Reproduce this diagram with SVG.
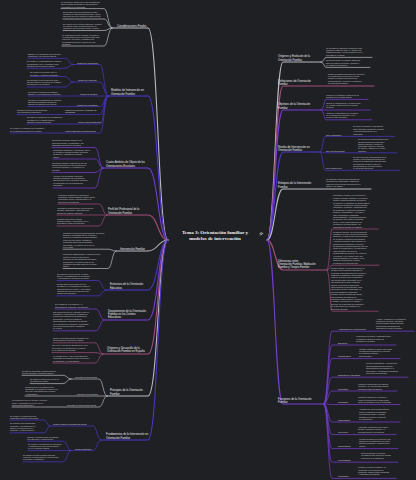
<svg xmlns="http://www.w3.org/2000/svg" width="416" height="480" viewBox="0 0 416 480">
<style>
.ln{fill:none;stroke-linecap:round;stroke-linejoin:round;stroke-width:0.7}
.mn{stroke-width:1.1}
.g{stroke:#b9b9bf}
.b{stroke:#4a36cf}
.p{stroke:#7a3cd8}
.k{stroke:#a44c7e}
text{font-family:"Liberation Sans",Arial,sans-serif}
.t{font-size:1.9px;fill:#c6c6cc}
.s{font-size:2.1px;fill:#d8d8dc}
.m{font-size:2.7px;fill:#ececef}
.c{font-family:"Liberation Serif","Times New Roman",serif;font-size:5px;font-weight:bold;fill:#f2f2f2}
</style>
<rect width="416" height="480" fill="#1f2024"/>
<g id="connectors">
<g class="ln g">
<path class="mn" d="M112 28H148C158 28 158 240 168 240"/>
<path d="M61 8.6H104C108 8.6 108 28 112 28"/>
<path d="M63 19H104C108 19 108 28 112 28"/>
<path d="M63 30.5H104C108 30.5 108 28 112 28"/>
<path d="M62 46H104C108 46 108 28 112 28"/>
</g>
<g class="ln b">
<path class="mn" d="M108 96H148C158 96 158 240 168 240"/>
<path d="M73 64.5H100C104 64.5 104 96 108 96"/>
<path d="M28 58.3H65C69 58.3 69 64.5 73 64.5"/>
<path d="M27 68.3H65C69 68.3 69 64.5 73 64.5"/>
<path d="M73 82H100C104 82 104 96 108 96"/>
<path d="M30 76.5H65C69 76.5 69 82 73 82"/>
<path d="M27 87H65C69 87 69 82 73 82"/>
<path d="M28 96H108"/>
<path d="M28 106.5H100C104 106.5 104 96 108 96"/>
<path d="M17 114.5H100C104 114.5 104 96 108 96"/>
<path d="M27 124H100C104 124 104 96 108 96"/>
<path d="M10 133H100C104 133 104 96 108 96"/>
</g>
<g class="ln p">
<path class="mn" d="M103 168H148C158 168 158 240 168 240"/>
<path d="M52 147.5H95C99 147.5 99 168 103 168"/>
<path d="M53 159H95C99 159 99 168 103 168"/>
<path d="M52 172.5H95C99 172.5 99 168 103 168"/>
<path d="M53 188H95C99 188 99 168 103 168"/>
</g>
<g class="ln k">
<path class="mn" d="M107 215H148C158 215 158 240 168 240"/>
<path d="M58 204H99C103 204 103 215 107 215"/>
<path d="M57 215H107"/>
<path d="M57 226H99C103 226 103 215 107 215"/>
</g>
<g class="ln g">
<path class="mn" d="M116 251H148C158 251 158 240 168 240"/>
<path d="M63 249.2H108C112 249.2 112 251 116 251"/>
<path d="M63 268.5H108C112 268.5 112 251 116 251"/>
</g>
<g class="ln b">
<path class="mn" d="M106 290H148C158 290 158 240 168 240"/>
<path d="M57 280.5H98C102 280.5 102 290 106 290"/>
<path d="M57 295.8H98C102 295.8 102 290 106 290"/>
</g>
<g class="ln p">
<path class="mn" d="M104 320H148C158 320 158 240 168 240"/>
<path d="M55 309H96C100 309 100 320 104 320"/>
<path d="M53 330.8H96C100 330.8 100 320 104 320"/>
</g>
<g class="ln k">
<path class="mn" d="M103 354H148C158 354 158 240 168 240"/>
<path d="M53 342.8H95C99 342.8 99 354 103 354"/>
<path d="M52 352.6H95C99 352.6 99 354 103 354"/>
<path d="M53 363H95C99 363 99 354 103 354"/>
</g>
<g class="ln g">
<path class="mn" d="M107 396H148C158 396 158 240 168 240"/>
<path d="M71 379H99C103 379 103 396 107 396"/>
<path d="M22 375.3H63C67 375.3 67 379 71 379"/>
<path d="M30 383.6H63C67 383.6 67 379 71 379"/>
<path d="M25 396H107"/>
<path d="M12 407H99C103 407 103 396 107 396"/>
</g>
<g class="ln b">
<path class="mn" d="M101 440H148C158 440 158 240 168 240"/>
<path d="M50 426H93C97 426 97 440 101 440"/>
<path d="M10 420H44C47 420 47 426 50 426"/>
<path d="M10 432.8H44C47 432.8 47 426 50 426"/>
<path d="M71 450.5H93C97 450.5 97 440 101 440"/>
<path d="M27 441.2H63C67 441.2 67 450.5 71 450.5"/>
<path d="M28 450.5H71"/>
<path d="M23 461.8H63C67 461.8 67 450.5 71 450.5"/>
</g>
<g class="ln g">
<path class="mn" d="M267 240C275 240 275 62 283 62H321"/>
<path d="M321 62C324 62 324 57.4 326 57.4H372"/>
<path d="M321 62C324 62 324 67.4 326 67.4H370"/>
</g>
<g class="ln k">
<path class="mn" d="M267 240C275 240 275 86 283 86H374"/>
</g>
<g class="ln p">
<path class="mn" d="M267 240C275 240 275 110 283 110H321"/>
<path d="M321 110C324 110 324 99.4 326 99.4H368"/>
<path d="M321 110H370"/>
<path d="M321 110C324 110 324 119.8 326 119.8H372"/>
</g>
<g class="ln b">
<path class="mn" d="M267 240C275 240 275 152 283 152H320"/>
<path d="M320 152C323 152 323 136.4 325 136.4H395"/>
<path d="M320 152C323 152 323 152.8 325 152.8H397"/>
<path d="M320 152C323 152 323 170.3 325 170.3H400"/>
</g>
<g class="ln g">
<path class="mn" d="M267 240C275 240 275 189 283 189H371"/>
</g>
<g class="ln k">
<path class="mn" d="M267 240C275 240 275 270 283 270H327"/>
<path d="M327 270C330 270 330 229 332 229H378"/>
<path d="M327 270C330 270 330 265.2 332 265.2H379"/>
<path d="M327 270C330 270 330 311.2 332 311.2H378"/>
</g>
<g class="ln p">
<path class="mn" d="M267 240C275 240 275 404 283 404H324"/>
<path d="M324 404C328 404 328 331.2 332 331.2H414"/>
<path d="M324 404C328 404 328 345 332 345H396"/>
<path d="M324 404C328 404 328 358.6 332 358.6H400"/>
<path d="M324 404C328 404 328 377.2 332 377.2H408"/>
<path d="M324 404C328 404 328 391 332 391H397"/>
<path d="M324 404C328 404 328 404.5 332 404.5H400"/>
<path d="M324 404C328 404 328 422 332 422H400"/>
<path d="M324 404C328 404 328 434.6 332 434.6H396"/>
<path d="M324 404C328 404 328 448.6 332 448.6H398"/>
<path d="M324 404C328 404 328 462.2 332 462.2H398"/>
<path d="M324 404C328 404 328 478.4 332 478.4H396"/>
</g>
</g>

<g id="center">
<text class="c" text-anchor="middle"><tspan x="215" y="233.6">Tema 3: Orientación familiar y</tspan><tspan x="215" y="240.2">modelos de intervención</tspan></text>
<g id="center-icon" fill="none" stroke="#d4d4d8" stroke-width="0.5" stroke-linecap="round"><path d="M260.2 235.3l2.2-2.2M259.6 233.8l1-1a0.9 0.9 0 0 1 1.3 1.3M263 233.3l-1 1a0.9 0.9 0 0 1-1.3-1.3"/></g>
</g>

<g id="consideraciones-finales">
<text class="m" x="117" y="26.6">Consideraciones Finales</text>
<g id="cf-1"><text class="t"><tspan x="61" y="2.8">La orientación familiar es un pilar fundamental</tspan><tspan x="61" y="5.2">para el desarrollo integral de los individuos y</tspan><tspan x="61" y="7.6">el bienestar de la comunidad.</tspan></text></g>
<g id="cf-2"><text class="t"><tspan x="63" y="12.6">Es necesario que los profesionales estén</tspan><tspan x="63" y="15">formados en competencias técnicas y éticas</tspan><tspan x="63" y="17.4">para intervenir con eficacia en cada contexto.</tspan></text></g>
<g id="cf-3"><text class="t"><tspan x="63" y="24.5">En relación con el modelo sistémico, la familia</tspan><tspan x="63" y="26.9">se entiende como un sistema abierto en</tspan><tspan x="63" y="29.3">interacción con su entorno social y cultural.</tspan></text></g>
<g id="cf-4"><text class="t"><tspan x="62" y="35.5">La colaboración entre la familia, la escuela y</tspan><tspan x="62" y="37.9">la comunidad favorece una intervención más</tspan><tspan x="62" y="40.3">coherente, preventiva y ajustada a las</tspan><tspan x="62" y="42.7">necesidades reales de cada uno de sus</tspan><tspan x="62" y="45.1">miembros.</tspan></text></g>
</g>

<g id="modelos-intervencion">
<text class="m"><tspan x="111" y="91.3">Modelos de Intervención en</tspan><tspan x="111" y="94.6">Orientación Familiar</tspan></text>
<g id="mi-consultoria"><text class="s" x="77" y="63.5">Modelo de Consultoría</text>
<g id="mi-consultoria-1"><text class="t"><tspan x="28" y="54.8">Basado en el análisis de las relaciones</tspan><tspan x="28" y="57.2">personales y del contexto familiar.</tspan></text></g>
<g id="mi-consultoria-2"><text class="t"><tspan x="27" y="62.2">Se centra en el asesoramiento a padres y</tspan><tspan x="27" y="64.6">profesionales, con el orientador como</tspan><tspan x="27" y="67">mediador del proceso de cambio.</tspan></text></g></g>
<g id="mi-consulta"><text class="s" x="78" y="81">Modelo de Consulta</text>
<g id="mi-consulta-1"><text class="t"><tspan x="30" y="73.2">Se centra en la relación entre el</tspan><tspan x="30" y="75.6">orientador y la familia consultante.</tspan></text></g>
<g id="mi-consulta-2"><text class="t"><tspan x="27" y="80.6">El orientador ayuda a través de otros</tspan><tspan x="27" y="83">agentes (tutores, docentes) que trabajan</tspan><tspan x="27" y="85.4">directamente con la familia.</tspan></text></g></g>
<g id="mi-terapia"><text class="s" x="80" y="95">Modelo de Terapia</text>
<g id="mi-terapia-1"><text class="t"><tspan x="28" y="92.6">Se centra en la función del sistema</tspan><tspan x="28" y="95">familiar y en la resolución de conflictos.</tspan></text></g></g>
<g id="mi-programas"><text class="s" x="77" y="105.5">Modelo de Programas</text>
<g id="mi-programas-1"><text class="t"><tspan x="28" y="100.6">Se basa en la planificación de acciones</tspan><tspan x="28" y="103">sistemáticas dirigidas a grupos de</tspan><tspan x="28" y="105.4">familias con objetivos preventivos.</tspan></text></g></g>
<g id="mi-servicios"><text class="s"><tspan x="65" y="110.8">Modelo de Servicios Actuando por</tspan><tspan x="65" y="113.4">Programas</tspan></text>
<g id="mi-servicios-1"><text class="t"><tspan x="17" y="110.8">Combina la atención individualizada</tspan><tspan x="17" y="113.2">con programas comunitarios.</tspan></text></g></g>
<g id="mi-psicopedagogico"><text class="s" x="78" y="123">Modelo Psicopedagógico</text>
<g id="mi-psicopedagogico-1"><text class="t"><tspan x="27" y="118.3">Se basa en la aplicación de programas de</tspan><tspan x="27" y="120.7">orientación en el ámbito escolar y</tspan><tspan x="27" y="123.1">familiar de forma coordinada.</tspan></text></g></g>
<g id="mi-constructivista"><text class="s" x="65" y="132">Modelo Educativo Constructivista</text>
<g id="mi-constructivista-1"><text class="t"><tspan x="10" y="129.3">Se centra en el desarrollo del alumnado y</tspan><tspan x="10" y="131.7">en la participación activa de la familia.</tspan></text></g></g>
</g>

<g id="cuatro-ambitos">
<text class="m"><tspan x="106" y="163.3">Cuatro Ámbitos de Objeto de las</tspan><tspan x="106" y="166.6">Orientaciones Escolares</tspan></text>
<g id="ca-1"><text class="t"><tspan x="52" y="141.2">Orientación personal: desarrollo del</tspan><tspan x="52" y="143.6">autoconocimiento, la autoestima y las</tspan><tspan x="52" y="146">habilidades sociales de la persona.</tspan></text></g>
<g id="ca-2"><text class="t"><tspan x="53" y="150.6">Orientación académica y profesional: apoyo</tspan><tspan x="53" y="153">en la toma de decisiones sobre itinerarios</tspan><tspan x="53" y="155.4">formativos y la transición al mundo</tspan><tspan x="53" y="157.8">laboral.</tspan></text></g>
<g id="ca-3"><text class="t"><tspan x="52" y="163.6">Orientación familiar: colaboración con las</tspan><tspan x="52" y="166">familias para favorecer su implicación en</tspan><tspan x="52" y="168.4">el proceso educativo y el desarrollo de</tspan><tspan x="52" y="170.8">sus hijos.</tspan></text></g>
<g id="ca-4"><text class="t"><tspan x="53" y="176.6">Atención a la diversidad: respuesta</tspan><tspan x="53" y="179">educativa ajustada a las necesidades</tspan><tspan x="53" y="181.4">específicas de apoyo educativo mediante</tspan><tspan x="53" y="183.8">la coordinación de los profesionales</tspan><tspan x="53" y="186.2">implicados.</tspan></text></g>
</g>

<g id="perfil-profesional">
<text class="m"><tspan x="108" y="210.3">Perfil del Profesional de la</tspan><tspan x="108" y="213.6">Orientación Familiar</tspan></text>
<g id="pp-1"><text class="t"><tspan x="58" y="195.6">Formación académica en Psicología,</tspan><tspan x="58" y="198">Pedagogía, Psicopedagogía, Trabajo Social</tspan><tspan x="58" y="200.4">o Educación Social, especializada en la</tspan><tspan x="58" y="202.8">intervención con familias.</tspan></text></g>
<g id="pp-2"><text class="t"><tspan x="57" y="208.8">Habilidades comunicativas: escucha activa,</tspan><tspan x="57" y="211.2">empatía, asertividad y capacidad para</tspan><tspan x="57" y="213.6">generar un clima de confianza.</tspan></text></g>
<g id="pp-3"><text class="t"><tspan x="57" y="219.6">Competencias éticas: respeto,</tspan><tspan x="57" y="222">confidencialidad y compromiso con el</tspan><tspan x="57" y="224.4">bienestar de todos los miembros.</tspan></text></g>
</g>

<g id="intervencion-familiar">
<text class="m" x="120" y="249.8">Intervención Familiar</text>
<g id="if-1"><text class="t"><tspan x="63" y="233.6">Conjunto de acciones planificadas que pretenden</tspan><tspan x="63" y="236">mejorar el funcionamiento de la familia y</tspan><tspan x="63" y="238.4">favorecer el desarrollo de sus miembros.</tspan><tspan x="63" y="240.8">Puede ser preventiva, educativa o</tspan><tspan x="63" y="243.2">terapéutica según las necesidades</tspan><tspan x="63" y="245.6">detectadas y el contexto en el que se</tspan><tspan x="63" y="248">lleva a cabo.</tspan></text></g>
<g id="if-2"><text class="t"><tspan x="63" y="255.4">Contempla distintas fases: evaluación inicial,</tspan><tspan x="63" y="257.8">diseño del plan de intervención,</tspan><tspan x="63" y="260.2">aplicación de las estrategias acordadas,</tspan><tspan x="63" y="262.6">seguimiento y evaluación final de los</tspan><tspan x="63" y="265">resultados obtenidos junto con la propia</tspan><tspan x="63" y="267.4">familia.</tspan></text></g>
</g>

<g id="estructura-orientacion">
<text class="m"><tspan x="110" y="285.3">Estructura de la Orientación</tspan><tspan x="110" y="288.6">Educativa</tspan></text>
<g id="eo-1"><text class="t"><tspan x="57" y="274.6">Se organiza en tres niveles: la acción</tspan><tspan x="57" y="277">tutorial, el departamento de orientación</tspan><tspan x="57" y="279.4">y los equipos de orientación de sector.</tspan></text></g>
<g id="eo-2"><text class="t"><tspan x="57" y="284.8">El tutor actúa como primer nivel de</tspan><tspan x="57" y="287.2">orientación, el departamento coordina y</tspan><tspan x="57" y="289.6">asesora dentro del centro, y los equipos</tspan><tspan x="57" y="292">externos apoyan a los centros de una</tspan><tspan x="57" y="294.4">misma zona educativa.</tspan></text></g>
</g>

<g id="departamento-orientacion">
<text class="m"><tspan x="108" y="311.6">Departamento de la Orientación</tspan><tspan x="108" y="314.9">Familiar en los Centros</tspan><tspan x="108" y="318.2">Educativos</tspan></text>
<g id="do-1"><text class="t"><tspan x="55" y="305.2">Se encarga de la orientación y el</tspan><tspan x="55" y="307.6">asesoramiento a familias y profesorado.</tspan></text></g>
<g id="do-2"><text class="t"><tspan x="53" y="312.6">Sus funciones incluyen: elaborar el plan de</tspan><tspan x="53" y="315">orientación y acción tutorial, colaborar en</tspan><tspan x="53" y="317.4">la detección temprana de dificultades de</tspan><tspan x="53" y="319.8">aprendizaje, realizar la evaluación</tspan><tspan x="53" y="322.2">psicopedagógica, asesorar a las familias</tspan><tspan x="53" y="324.6">en la educación de sus hijos y coordinarse</tspan><tspan x="53" y="327">con los servicios sociales y sanitarios</tspan><tspan x="53" y="329.4">de la zona.</tspan></text></g>
</g>

<g id="origenes-desarrollo">
<text class="m"><tspan x="107" y="349">Orígenes y Desarrollo de la</tspan><tspan x="107" y="352.3">Orientación Familiar en España</tspan></text>
<g id="od-1"><text class="t"><tspan x="53" y="339">Surge en los años sesenta vinculada a los</tspan><tspan x="53" y="341.4">movimientos de escuelas de padres.</tspan></text></g>
<g id="od-2"><text class="t"><tspan x="52" y="346.4">Con la Ley General de Educación de 1970</tspan><tspan x="52" y="348.8">se reconoce la importancia de la familia</tspan><tspan x="52" y="351.2">en la educación de los hijos.</tspan></text></g>
<g id="od-3"><text class="t"><tspan x="53" y="356.8">La LOGSE (1990) y las leyes posteriores</tspan><tspan x="53" y="359.2">consolidan la orientación como un derecho</tspan><tspan x="53" y="361.6">del alumnado y de sus familias.</tspan></text></g>
</g>

<g id="principios">
<text class="m"><tspan x="110" y="391.3">Principios de la Orientación</tspan><tspan x="110" y="394.6">Familiar</tspan></text>
<g id="pr-prevencion"><text class="s" x="75" y="378">Principio de Prevención</text>
<g id="pr-prevencion-1"><text class="t"><tspan x="22" y="371.6">Se trata de anticiparse a situaciones que</tspan><tspan x="22" y="374">pueden dificultar el desarrollo familiar.</tspan></text></g>
<g id="pr-prevencion-2"><text class="t"><tspan x="30" y="379.8">Se basa en la detección precoz de</tspan><tspan x="30" y="382.2">los factores de riesgo.</tspan></text></g></g>
<g id="pr-desarrollo"><text class="s" x="77" y="395">Principio de Desarrollo</text>
<g id="pr-desarrollo-1"><text class="t"><tspan x="25" y="387.6">Considera que la orientación debe</tspan><tspan x="25" y="390">acompañar a la familia a lo largo de su</tspan><tspan x="25" y="392.4">ciclo vital, potenciando sus recursos</tspan><tspan x="25" y="394.8">y capacidades.</tspan></text></g></g>
<g id="pr-social"><text class="s" x="67" y="406">Principio de Intervención Social</text>
<g id="pr-social-1"><text class="t"><tspan x="12" y="401.2">La orientación tiene en cuenta el contexto</tspan><tspan x="12" y="403.6">social y comunitario en el que vive la</tspan><tspan x="12" y="406">familia para transformarlo.</tspan></text></g></g>
</g>

<g id="fundamentos">
<text class="m"><tspan x="106" y="435.3">Fundamentos de la Intervención en</tspan><tspan x="106" y="438.6">Orientación Familiar</tspan></text>
<g id="fu-cognitivo"><text class="s" x="53" y="425">Modelo Cognitivo-Conductual-Social</text>
<g id="fu-cognitivo-1"><text class="t"><tspan x="10" y="416.6">Se centra en la modificación de</tspan><tspan x="10" y="419">conductas a partir del aprendizaje.</tspan></text></g>
<g id="fu-cognitivo-2"><text class="t"><tspan x="10" y="424.2">Se analizan los pensamientos,</tspan><tspan x="10" y="426.6">creencias y expectativas de la</tspan><tspan x="10" y="429">familia y su influencia en la</tspan><tspan x="10" y="431.4">conducta y en las relaciones.</tspan></text></g></g>
<g id="fu-sistemico"><text class="s" x="75" y="449.5">Modelo Sistémico</text>
<g id="fu-sistemico-1"><text class="t"><tspan x="27" y="437.6">Concibe a la familia como un sistema</tspan><tspan x="27" y="440">con estructura y reglas propias.</tspan></text></g>
<g id="fu-sistemico-2"><text class="t"><tspan x="28" y="444.6">Se centra en los patrones de interacción</tspan><tspan x="28" y="447">y comunicación entre sus miembros y</tspan><tspan x="28" y="449.4">no en el individuo aislado.</tspan></text></g>
<g id="fu-sistemico-3"><text class="t"><tspan x="23" y="455.6">Se trabaja con toda la familia para que</tspan><tspan x="23" y="458">encuentre nuevas formas de relación más</tspan><tspan x="23" y="460.4">funcionales y saludables.</tspan></text></g></g>
</g>

<g id="origenes-evolucion">
<text class="m"><tspan x="278" y="57.3">Orígenes y Evolución de la</tspan><tspan x="278" y="60.6">Orientación Familiar</tspan></text>
<g id="oe-1"><text class="t"><tspan x="326" y="48.6">La Orientación Familiar se desarrolla como</tspan><tspan x="326" y="51">disciplina a partir del siglo XX, ligada a los</tspan><tspan x="326" y="53.4">cambios sociales y a la preocupación por el</tspan><tspan x="326" y="55.8">bienestar de la familia.</tspan></text></g>
<g id="oe-2"><text class="t"><tspan x="326" y="61.2">Evoluciona desde un enfoque asistencial</tspan><tspan x="326" y="63.6">hacia un modelo preventivo, educativo y</tspan><tspan x="326" y="66">de desarrollo comunitario.</tspan></text></g>
</g>

<g id="definiciones">
<text class="m"><tspan x="278" y="81.6">Definiciones de Orientación</tspan><tspan x="278" y="84.9">Familiar</tspan></text>
<g id="de-1"><text class="t"><tspan x="328" y="74.6">Existen diversas definiciones que coinciden</tspan><tspan x="328" y="77">en considerarla un proceso de ayuda</tspan><tspan x="328" y="79.4">dirigido a la familia para mejorar su</tspan><tspan x="328" y="81.8">funcionamiento y favorecer el desarrollo</tspan><tspan x="328" y="84.2">de todos sus miembros.</tspan></text></g>
</g>

<g id="objetivos">
<text class="m"><tspan x="278" y="105.3">Objetivos de la Orientación</tspan><tspan x="278" y="108.6">Familiar</tspan></text>
<g id="ob-1"><text class="t"><tspan x="326" y="95.6">Favorecer el desarrollo personal de los</tspan><tspan x="326" y="98">miembros de la unidad familiar.</tspan></text></g>
<g id="ob-2"><text class="t"><tspan x="326" y="103.6">Mejorar la comunicación y la convivencia</tspan><tspan x="326" y="106">en el hogar, fortaleciendo los vínculos</tspan><tspan x="326" y="108.4">afectivos.</tspan></text></g>
<g id="ob-3"><text class="t"><tspan x="326" y="113.6">Promover la participación de la familia</tspan><tspan x="326" y="116">en la educación de los hijos y en la</tspan><tspan x="326" y="118.4">vida del centro educativo.</tspan></text></g>
</g>

<g id="niveles">
<text class="m"><tspan x="278" y="147.6">Niveles de Intervención en</tspan><tspan x="278" y="150.9">Orientación Familiar</tspan></text>
<g id="ni-informativo"><text class="s" x="326" y="135.6">Nivel Informativo</text>
<g id="ni-informativo-1"><text class="t"><tspan x="353" y="127.4">Se ofrece información a las familias</tspan><tspan x="353" y="129.8">sobre aspectos educativos, recursos</tspan><tspan x="353" y="132.2">y servicios disponibles en la</tspan><tspan x="353" y="134.6">comunidad.</tspan></text></g></g>
<g id="ni-orientacion"><text class="s" x="326" y="151.8">Nivel de Orientación</text>
<g id="ni-orientacion-1"><text class="t"><tspan x="358" y="140.2">Se proporciona asesoramiento para</tspan><tspan x="358" y="142.5">afrontar situaciones concretas y</tspan><tspan x="358" y="144.8">tomar decisiones, a través de</tspan><tspan x="358" y="147.1">entrevistas, talleres o escuelas</tspan><tspan x="358" y="149.4">de padres y madres en el centro</tspan><tspan x="358" y="151.7">educativo.</tspan></text></g></g>
<g id="ni-terapeutico"><text class="s" x="326" y="169.3">Nivel Terapéutico</text>
<g id="ni-terapeutico-1"><text class="t"><tspan x="353" y="157.6">Se interviene ante problemas graves de</tspan><tspan x="353" y="159.9">relación o funcionamiento familiar que</tspan><tspan x="353" y="162.2">requieren un tratamiento especializado,</tspan><tspan x="353" y="164.5">generalmente llevado a cabo por</tspan><tspan x="353" y="166.8">profesionales de la terapia familiar</tspan><tspan x="353" y="169.1">en servicios específicos.</tspan></text></g></g>
</g>

<g id="enfoques">
<text class="m"><tspan x="278" y="184.3">Enfoques de la Intervención</tspan><tspan x="278" y="187.6">Familiar</tspan></text>
<g id="en-1"><text class="t"><tspan x="326" y="180">Se distinguen enfoques psicodinámicos,</tspan><tspan x="326" y="182.4">conductuales, humanistas y sistémicos,</tspan><tspan x="326" y="184.8">cada uno con su propia concepción de la</tspan><tspan x="326" y="187.2">familia y del cambio.</tspan></text></g>
</g>

<g id="diferencias">
<text class="m"><tspan x="278" y="261.6">Diferencias entre</tspan><tspan x="278" y="264.9">Orientación Familiar, Mediación</tspan><tspan x="278" y="268.2">Familiar y Terapia Familiar</tspan></text>
<g id="di-orientacion"><text class="t"><tspan x="333" y="196.4">Orientación Familiar: es un proceso de</tspan><tspan x="333" y="198.8">ayuda de carácter educativo y preventivo</tspan><tspan x="333" y="201.2">dirigido a todas las familias. Su objetivo</tspan><tspan x="333" y="203.6">es favorecer el desarrollo de sus miembros</tspan><tspan x="333" y="206">y mejorar la convivencia, proporcionando</tspan><tspan x="333" y="208.4">información, formación y asesoramiento.</tspan><tspan x="333" y="210.8">Se desarrolla en contextos educativos,</tspan><tspan x="333" y="213.2">sociales y comunitarios, y la llevan a</tspan><tspan x="333" y="215.6">cabo orientadores, pedagogos,</tspan><tspan x="333" y="218">psicopedagogos y educadores sociales.</tspan><tspan x="333" y="220.4">No requiere que exista un problema</tspan><tspan x="333" y="222.8">previo, ya que busca potenciar los</tspan><tspan x="333" y="225.2">recursos de la propia familia y su</tspan><tspan x="333" y="227.6">capacidad de afrontar los cambios.</tspan></text></g>
<g id="di-mediacion"><text class="t"><tspan x="333" y="232.6">Mediación Familiar: es un procedimiento</tspan><tspan x="333" y="235">voluntario en el que una tercera persona</tspan><tspan x="333" y="237.4">imparcial y neutral ayuda a los miembros</tspan><tspan x="333" y="239.8">de la familia a gestionar sus conflictos</tspan><tspan x="333" y="242.2">y alcanzar acuerdos, especialmente en</tspan><tspan x="333" y="244.6">situaciones de separación o divorcio.</tspan><tspan x="333" y="247">El mediador no toma decisiones, sino que</tspan><tspan x="333" y="249.4">facilita la comunicación y la negociación</tspan><tspan x="333" y="251.8">entre las partes, que son las</tspan><tspan x="333" y="254.2">protagonistas del proceso. Se centra en</tspan><tspan x="333" y="256.6">el presente y en el futuro, tiene una</tspan><tspan x="333" y="259">duración limitada en el tiempo y unos</tspan><tspan x="333" y="261.4">objetivos concretos que quedan</tspan><tspan x="333" y="263.8">recogidos en un acuerdo final.</tspan></text></g>
<g id="di-terapia"><text class="t"><tspan x="331" y="268.8">Terapia Familiar: es una intervención de</tspan><tspan x="331" y="271.2">carácter clínico dirigida a familias que</tspan><tspan x="331" y="273.6">presentan problemas graves de relación o</tspan><tspan x="331" y="276">trastornos en alguno de sus miembros.</tspan><tspan x="331" y="278.4">Parte de la idea de que el síntoma de</tspan><tspan x="331" y="280.8">una persona está relacionado con el</tspan><tspan x="331" y="283.2">funcionamiento de todo el sistema</tspan><tspan x="331" y="285.6">familiar. La realizan profesionales</tspan><tspan x="331" y="288">especializados en psicoterapia, como</tspan><tspan x="331" y="290.4">psicólogos clínicos o psiquiatras, en</tspan><tspan x="331" y="292.8">servicios sanitarios o gabinetes</tspan><tspan x="331" y="295.2">privados. Utiliza técnicas específicas</tspan><tspan x="331" y="297.6">para modificar los patrones de</tspan><tspan x="331" y="300">interacción disfuncionales y promover</tspan><tspan x="331" y="302.4">el cambio. Su duración es variable y</tspan><tspan x="331" y="304.8">depende de la gravedad del problema y</tspan><tspan x="331" y="307.2">de la implicación de la familia en el</tspan><tspan x="331" y="309.6">proceso terapéutico.</tspan></text></g>
</g>

<g id="funciones">
<text class="m"><tspan x="278" y="400">Funciones de la Orientación</tspan><tspan x="278" y="403.3">Familiar</tspan></text>
<g id="fn-asesoramiento"><text class="s" x="338" y="330">Asesoramiento a Instituciones</text>
<g id="fn-asesoramiento-1"><text class="t"><tspan x="376" y="319.6">Ayudar y colaborar con los agentes</tspan><tspan x="376" y="321.9">educativos, sociales y sanitarios,</tspan><tspan x="376" y="324.2">proporcionando pautas comunes</tspan><tspan x="376" y="326.5">para abordar las situaciones</tspan><tspan x="376" y="328.8">familiares de forma coordinada.</tspan></text></g></g>
<g id="fn-educativa"><text class="s" x="338" y="343.8">Educativa</text>
<g id="fn-educativa-1"><text class="t"><tspan x="356" y="337.4">Proporcionar recursos y habilidades para</tspan><tspan x="356" y="339.8">el desarrollo integral de todos los</tspan><tspan x="356" y="342.2">miembros de la familia.</tspan></text></g></g>
<g id="fn-coordinadora"><text class="s" x="338" y="357.4">Coordinadora</text>
<g id="fn-coordinadora-1"><text class="t"><tspan x="359" y="349.6">Facilitar el trabajo en grupo entre todos</tspan><tspan x="359" y="352">los agentes implicados en el proceso</tspan><tspan x="359" y="354.4">de orientación familiar y</tspan><tspan x="359" y="356.8">socioeducativa.</tspan></text></g></g>
<g id="fn-diagnostico"><text class="s" x="338" y="376">Diagnóstico-evaluadora</text>
<g id="fn-diagnostico-1"><text class="t"><tspan x="366" y="364.4">Realizar diagnósticos y evaluaciones</tspan><tspan x="366" y="366.8">psicopedagógicas para detectar</tspan><tspan x="366" y="369.2">tempranamente dificultades en el</tspan><tspan x="366" y="371.6">aprendizaje y necesidades educativas</tspan><tspan x="366" y="374">especiales del alumnado.</tspan></text></g></g>
<g id="fn-informativa"><text class="s" x="338" y="389.8">Informativa</text>
<g id="fn-informativa-1"><text class="t"><tspan x="358" y="384.8">Facilitar la comprensión del sistema</tspan><tspan x="358" y="387.2">educativo y de los recursos sociales</tspan><tspan x="358" y="389.6">disponibles para las familias.</tspan></text></g></g>
<g id="fn-mediadora"><text class="s" x="338" y="403.3">Mediadora</text>
<g id="fn-mediadora-1"><text class="t"><tspan x="358" y="398.2">Gestionar espacios de consenso y</tspan><tspan x="358" y="400.6">resolver conflictos que puedan surgir</tspan><tspan x="358" y="403">dentro de la familia o con la comunidad.</tspan></text></g></g>
<g id="fn-planificadora"><text class="s" x="338" y="420.8">Planificadora</text>
<g id="fn-planificadora-1"><text class="t"><tspan x="359" y="410.4">Asegurar que los procedimientos se</tspan><tspan x="359" y="412.8">dirigen a identificar necesidades,</tspan><tspan x="359" y="415.2">con objetivos claros y realistas,</tspan><tspan x="359" y="417.6">adaptando la acción al contexto</tspan><tspan x="359" y="420">de cada familia.</tspan></text></g></g>
<g id="fn-preventiva"><text class="s" x="338" y="433.4">Preventiva</text>
<g id="fn-preventiva-1"><text class="t"><tspan x="358" y="428">Anticiparse a situaciones de riesgo y</tspan><tspan x="358" y="430.4">facilitar el desarrollo integral y el</tspan><tspan x="358" y="432.8">bienestar social de las familias.</tspan></text></g></g>
<g id="fn-socializadora"><text class="s" x="338" y="447.4">Socializadora</text>
<g id="fn-socializadora-1"><text class="t"><tspan x="359" y="439.6">Facilitar procesos que refuercen a las</tspan><tspan x="359" y="442">familias en la colaboración con otros</tspan><tspan x="359" y="444.4">agentes educativos y sociales de su</tspan><tspan x="359" y="446.8">entorno.</tspan></text></g></g>
<g id="fn-investigadora"><text class="s" x="338" y="461">Investigadora</text>
<g id="fn-investigadora-1"><text class="t"><tspan x="361" y="454">Reflexionar sobre la práctica</tspan><tspan x="361" y="456.4">orientadora para mejorar su calidad</tspan><tspan x="361" y="458.8">a través de la investigación.</tspan></text></g></g>
<g id="fn-innovadora"><text class="s" x="338" y="477.2">Innovadora</text>
<g id="fn-innovadora-1"><text class="t"><tspan x="358" y="468.2">Promover la mejora continua y la</tspan><tspan x="358" y="470.6">creatividad en la resolución de</tspan><tspan x="358" y="473">problemas, desarrollando programas</tspan><tspan x="358" y="475.4">y estrategias innovadoras.</tspan></text></g></g>
</g>
</svg>
